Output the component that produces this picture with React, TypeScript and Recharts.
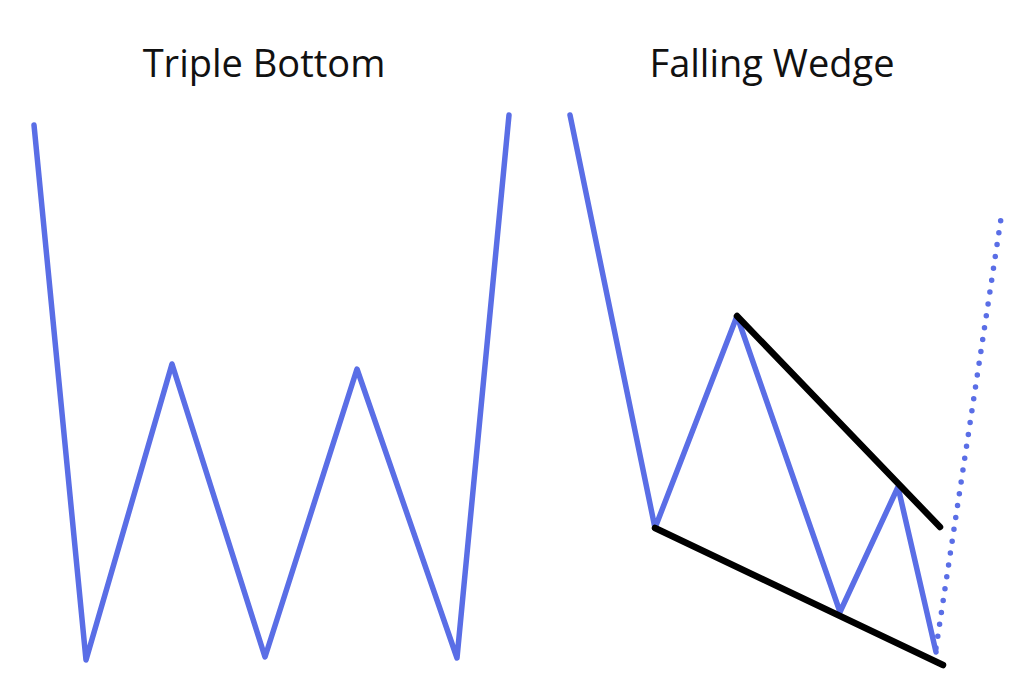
import React from 'react';
import { LineChart, Line, XAxis, YAxis } from 'recharts';

// horizontal position (time) and vertical level (level grows downward)
const tripleTime = [34, 86, 172, 265, 357, 457, 509];
const tripleLevel = [125, 660, 364, 657, 369, 658, 115];

const wedgeTime = [570, 655, 737, 840, 898, 936];
const wedgeLevel = [115, 528, 316, 612, 487, 652];

const breakoutTime = [936, 1002];
const breakoutLevel = [648, 212];

const upperTrendTime = [737, 940];
const upperTrendLevel = [316, 527];

const lowerTrendTime = [655, 943];
const lowerTrendLevel = [528, 665];

const titles = ['Triple Bottom', 'Falling Wedge'];
const titleCenters = [264, 772];

const toPoints = (xs: number[], ys: number[]) => xs.map((x, i) => ({ x, y: ys[i] }));

const BLUE = '#5a6ee6';

const App: React.FC = () => {
  return (
    <div style={{ position: 'absolute', left: 0, top: 0, width: 1024, height: 694, background: '#fff' }}>
      {titles.map((t, i) => (
        <div
          key={t}
          style={{
            position: 'absolute',
            top: 43,
            left: titleCenters[i] - 200,
            width: 400,
            textAlign: 'center',
            fontFamily: '"Open Sans", sans-serif',
            fontSize: 38,
            lineHeight: '38px',
            color: '#111',
          }}
        >
          {t}
        </div>
      ))}
      <LineChart width={1024} height={694} margin={{ top: 0, right: 0, bottom: 0, left: 0 }}>
        <XAxis dataKey="x" type="number" domain={[0, 1024]} hide />
        <YAxis dataKey="y" type="number" domain={[0, 694]} reversed hide />
        <Line
          data={toPoints(tripleTime, tripleLevel)}
          dataKey="y"
          type="linear"
          stroke={BLUE}
          strokeWidth={5.5}
          strokeLinejoin="round"
          strokeLinecap="round"
          dot={false}
          activeDot={false}
          isAnimationActive={false}
        />
        <Line
          data={toPoints(wedgeTime, wedgeLevel)}
          dataKey="y"
          type="linear"
          stroke={BLUE}
          strokeWidth={5.5}
          strokeLinejoin="round"
          strokeLinecap="round"
          dot={false}
          activeDot={false}
          isAnimationActive={false}
        />
        <Line
          data={toPoints(breakoutTime, breakoutLevel)}
          dataKey="y"
          type="linear"
          stroke={BLUE}
          strokeWidth={5.5}
          strokeDasharray="0 12"
          strokeLinecap="round"
          dot={false}
          activeDot={false}
          isAnimationActive={false}
        />
        <Line
          data={toPoints(upperTrendTime, upperTrendLevel)}
          dataKey="y"
          type="linear"
          stroke="#000"
          strokeWidth={6.5}
          strokeLinecap="round"
          dot={false}
          activeDot={false}
          isAnimationActive={false}
        />
        <Line
          data={toPoints(lowerTrendTime, lowerTrendLevel)}
          dataKey="y"
          type="linear"
          stroke="#000"
          strokeWidth={6.5}
          strokeLinecap="round"
          dot={false}
          activeDot={false}
          isAnimationActive={false}
        />
      </LineChart>
    </div>
  );
};

export default App;
